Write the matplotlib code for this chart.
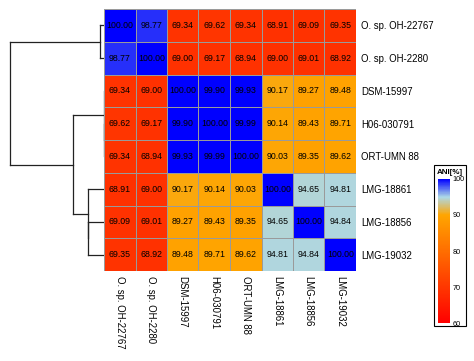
import matplotlib
matplotlib.use("Agg")
import matplotlib.pyplot as plt
import numpy as np
from matplotlib.colors import LinearSegmentedColormap
from matplotlib.patches import Rectangle

plt.rcParams["font.family"] = ["Liberation Sans", "DejaVu Sans"]

# Strains, in the order shown (rows top to bottom, columns left to right)
strains = ["O. sp. OH-22767", "O. sp. OH-2280", "DSM-15997", "H06-030791",
           "ORT-UMN 88", "LMG-18861", "LMG-18856", "LMG-19032"]

# Pairwise ANI values [%]
ani = np.array([
    [100.00, 98.77, 69.34, 69.62, 69.34, 68.91, 69.09, 69.35],
    [98.77, 100.00, 69.00, 69.17, 68.94, 69.00, 69.01, 68.92],
    [69.34, 69.00, 100.00, 99.90, 99.93, 90.17, 89.27, 89.48],
    [69.62, 69.17, 99.90, 100.00, 99.99, 90.14, 89.43, 89.71],
    [69.34, 68.94, 99.93, 99.99, 100.00, 90.03, 89.35, 89.62],
    [68.91, 69.00, 90.17, 90.14, 90.03, 100.00, 94.65, 94.81],
    [69.09, 69.01, 89.27, 89.43, 89.35, 94.65, 100.00, 94.84],
    [69.35, 68.92, 89.48, 89.71, 89.62, 94.81, 94.84, 100.00],
])
cbar_ticks = [60, 70, 80, 90, 100]

n = len(strains)
cmap = LinearSegmentedColormap.from_list(
    "ani", [(0.0, "#FF0000"), (0.75, "#FFA500"), (0.875, "#ADD8E6"), (1.0, "#0000FF")])

W, H = 474, 361
fig = plt.figure(figsize=(W / 100, H / 100), dpi=100)

# heatmap
hx0, hx1, hy0, hy1 = 104, 356, 9, 271
ax = fig.add_axes([hx0 / W, 1 - hy1 / H, (hx1 - hx0) / W, (hy1 - hy0) / H])
mesh = ax.pcolormesh(ani, cmap=cmap, vmin=60, vmax=100,
                     edgecolors="#9a9a9a", linewidth=0.6)
ax.set_xlim(0, n)
ax.set_ylim(n, 0)
for i in range(n):
    for j in range(n):
        ax.text(j + 0.5, i + 0.5, f"{ani[i, j]:.2f}", ha="center", va="center",
                fontsize=6.3, color="black")
ax.set_xticks(np.arange(n) + 0.5)
ax.set_xticklabels(strains, rotation=270, fontsize=6.9)
ax.yaxis.tick_right()
ax.set_yticks(np.arange(n) + 0.5)
ax.set_yticklabels(strains, fontsize=6.9)
ax.tick_params(length=0, pad=3.5)
for s in ax.spines.values():
    s.set_visible(False)

# row dendrogram (average linkage on 100 - ANI)
dist = 100 - ani
clusters = [{"members": [i], "h": 0.0, "y": i + 0.5} for i in range(n)]
links = []
while len(clusters) > 1:
    best = None
    for a in range(len(clusters)):
        for b in range(a + 1, len(clusters)):
            d = dist[np.ix_(clusters[a]["members"], clusters[b]["members"])].mean()
            if best is None or d < best[0]:
                best = (d, a, b)
    d, a, b = best
    ca, cb = clusters[a], clusters[b]
    links.append((ca, cb, d))
    new = {"members": ca["members"] + cb["members"], "h": d,
           "y": (ca["y"] + cb["y"]) / 2}
    clusters = [c for k, c in enumerate(clusters) if k not in (a, b)] + [new]

dax = fig.add_axes([0, 1 - hy1 / H, hx0 / W, (hy1 - hy0) / H])
for ca, cb, d in links:
    dax.plot([d, d], [ca["y"], cb["y"]], color="#222222", lw=0.9)
    dax.plot([ca["h"], d], [ca["y"], ca["y"]], color="#222222", lw=0.9)
    dax.plot([cb["h"], d], [cb["y"], cb["y"]], color="#222222", lw=0.9)
dax.set_xlim(104 / 3.03, 0)
dax.set_ylim(n, 0)
dax.axis("off")

# colour key
fig.patches.append(Rectangle((434 / W, 1 - 326 / H), 32 / W, 161 / H,
                             transform=fig.transFigure, fill=False,
                             edgecolor="black", linewidth=0.8))
cax = fig.add_axes([438 / W, 1 - 323 / H, 12 / W, 144 / H])
cb = fig.colorbar(mesh, cax=cax, ticks=cbar_ticks)
cb.outline.set_visible(False)
cax.tick_params(labelsize=5.2, length=0, pad=2)
fig.text(450 / W, 1 - 172 / H, "ANI[%]", ha="center", va="center",
         fontsize=5.8, fontweight="bold")

fig.savefig("out.png", dpi=100)
